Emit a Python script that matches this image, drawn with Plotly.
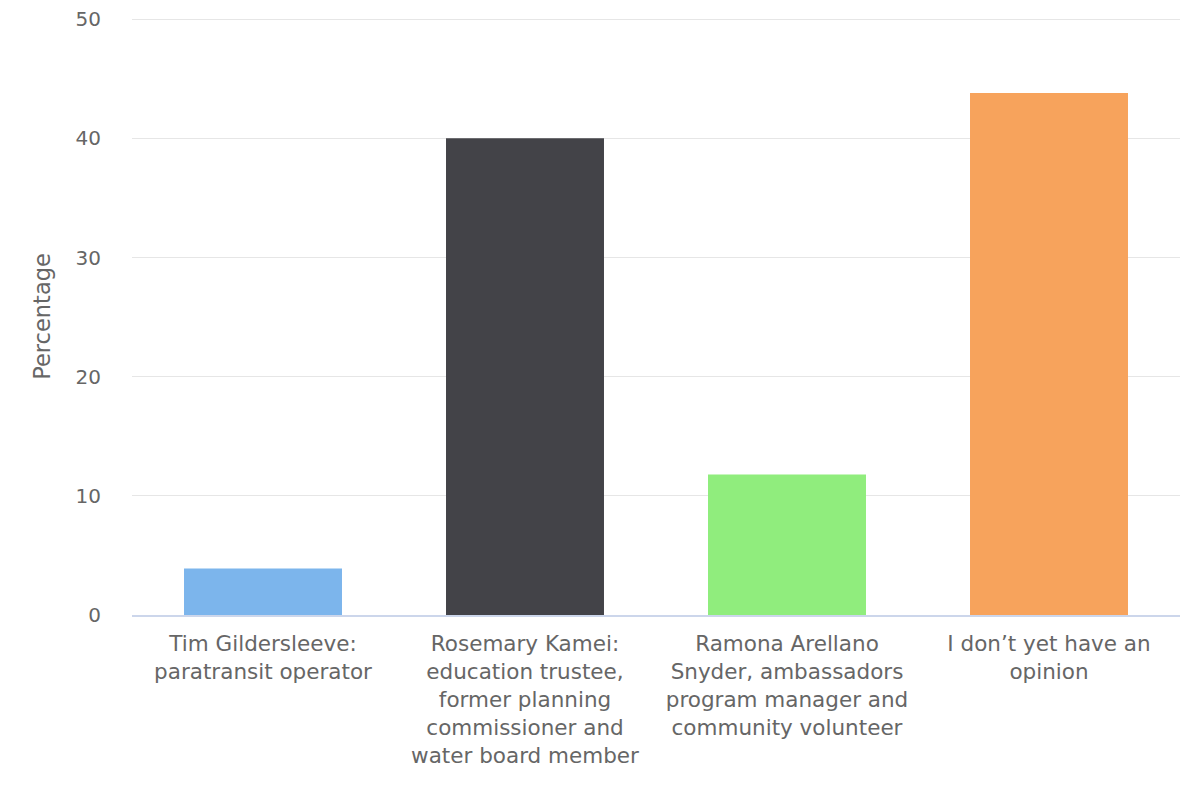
import plotly.graph_objects as go

categories = [
    "Tim Gildersleeve:<br>paratransit operator",
    "Rosemary Kamei:<br>education trustee,<br>former planning<br>commissioner and<br>water board member",
    "Ramona Arellano<br>Snyder, ambassadors<br>program manager and<br>community volunteer",
    "I don’t yet have an<br>opinion",
]
values = [3.9, 40.0, 11.8, 43.8]
colors = ["#7cb5ec", "#434348", "#90ed7d", "#f7a35c"]
y_ticks = [0, 10, 20, 30, 40, 50]

FONT = "DejaVu Sans, sans-serif"

fig = go.Figure(
    go.Bar(
        x=categories,
        y=values,
        marker=dict(color=colors, line=dict(width=0)),
        hoverinfo="x+y",
    )
)

fig.update_layout(
    width=1200,
    height=800,
    margin=dict(l=132, r=20, t=18, b=185, autoexpand=False),
    paper_bgcolor="white",
    plot_bgcolor="white",
    bargap=0.397,
    showlegend=False,
    font=dict(family=FONT, color="#666666"),
)

fig.update_xaxes(
    automargin=False,
    showline=True,
    linecolor="#ccd6eb",
    linewidth=2,
    showgrid=False,
    ticks="",
    tickfont=dict(size=21.5, color="#666666", family=FONT),
    ticklabelstandoff=8,
)

fig.update_yaxes(
    automargin=False,
    range=[0, 50.1],
    tickvals=y_ticks,
    showgrid=True,
    gridcolor="#e6e6e6",
    gridwidth=1,
    zeroline=False,
    showline=False,
    ticks="",
    tickfont=dict(size=20, color="#666666", family=FONT),
    ticklabelstandoff=30,
    title=dict(text="Percentage", font=dict(size=22.5, color="#666666", family=FONT), standoff=18),
)

fig.write_html("out.html")
